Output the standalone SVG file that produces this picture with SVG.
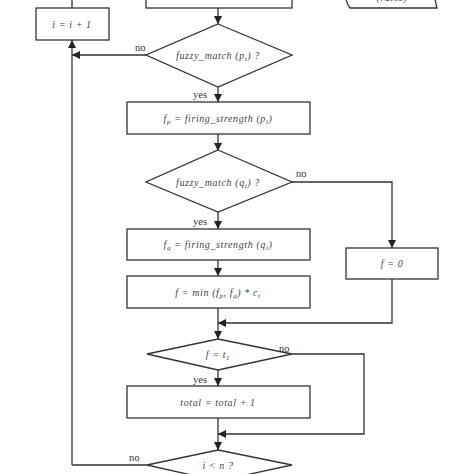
<svg xmlns="http://www.w3.org/2000/svg" width="474" height="474" viewBox="0 0 474 474">
<style>
.s{fill:#fff;stroke:#333;stroke-width:1.3}
.c{fill:none;stroke:#333;stroke-width:1.3}
.t{font-family:"Liberation Serif",serif;font-style:italic;font-size:10px;fill:#444;text-anchor:middle;letter-spacing:0.6px}
.l{font-family:"Liberation Serif",serif;font-size:10.5px;fill:#333}
</style>
<defs>
<marker id="a" markerWidth="8" markerHeight="8" refX="8" refY="4" orient="auto" markerUnits="userSpaceOnUse">
<path d="M0,0 L8,4 L0,8 Z" fill="#222"/>
</marker>
</defs>
<rect width="474" height="474" fill="#fff"/>
<g id="connectors">
<path class="c" d="M218,8 V24" marker-end="url(#a)"/>
<path class="c" d="M72,0 V8"/>
<path class="c" d="M146,55 H72" marker-end="url(#a)"/>
<path class="c" d="M72,465 V40" marker-end="url(#a)"/>
<path class="c" d="M218,87 V102" marker-end="url(#a)"/>
<path class="c" d="M218,134 V151" marker-end="url(#a)"/>
<path class="c" d="M292,182 H392 V248" marker-end="url(#a)"/>
<path class="c" d="M218,212 V229" marker-end="url(#a)"/>
<path class="c" d="M218,260 V276" marker-end="url(#a)"/>
<path class="c" d="M218,308 V339" marker-end="url(#a)"/>
<path class="c" d="M392,279 V323 H218" marker-end="url(#a)"/>
<path class="c" d="M292,354 H364 V434 H218" marker-end="url(#a)"/>
<path class="c" d="M218,370 V386" marker-end="url(#a)"/>
<path class="c" d="M218,418 V450" marker-end="url(#a)"/>
<path class="c" d="M147,465 H72"/>
<text class="l" x="135" y="51">no</text>
<text class="l" x="193" y="98">yes</text>
<text class="l" x="296" y="177">no</text>
<text class="l" x="193" y="225">yes</text>
<text class="l" x="279" y="352">no</text>
<text class="l" x="193" y="383">yes</text>
<text class="l" x="129" y="461">no</text>
</g>
<g id="top"><rect class="s" x="146" y="-30" width="146" height="38"/></g>
<g id="rules">
<path class="s" d="M350,-30 H436 Q432,-10 437,8 H350 Q344,0 347,-8 Z"/>
<text class="t" x="392" y="1">(rules)</text>
</g>
<g id="inc"><rect class="s" x="36" y="8" width="73" height="32"/><text class="t" x="72" y="28">i = i + 1</text></g>
<g id="d1"><path class="s" d="M218,24 L292,55 L218,87 L146,55 Z"/><text class="t" x="218" y="59">fuzzy_match (p<tspan font-size="7" dy="2">i</tspan><tspan dy="-2">) ?</tspan></text></g>
<g id="fp"><rect class="s" x="127" y="102" width="183" height="32"/><text class="t" x="218" y="122">f<tspan font-size="7" dy="2">p</tspan><tspan dy="-2"> = firing_strength (p</tspan><tspan font-size="7" dy="2">i</tspan><tspan dy="-2">)</tspan></text></g>
<g id="d2"><path class="s" d="M218,150 L292,182 L218,212 L146,182 Z"/><text class="t" x="218" y="186">fuzzy_match (q<tspan font-size="7" dy="2">i</tspan><tspan dy="-2">) ?</tspan></text></g>
<g id="fq"><rect class="s" x="127" y="229" width="183" height="31"/><text class="t" x="218" y="248">f<tspan font-size="7" dy="2">q</tspan><tspan dy="-2"> = firing_strength (q</tspan><tspan font-size="7" dy="2">i</tspan><tspan dy="-2">)</tspan></text></g>
<g id="fmin"><rect class="s" x="127" y="276" width="183" height="32"/><text class="t" x="218" y="296">f = min (f<tspan font-size="7" dy="2">p</tspan><tspan dy="-2">, f</tspan><tspan font-size="7" dy="2">q</tspan><tspan dy="-2">) * c</tspan><tspan font-size="7" dy="2">i</tspan></text></g>
<g id="f0"><rect class="s" x="346" y="248" width="92" height="31"/><text class="t" x="392" y="267">f = 0</text></g>
<g id="d3"><path class="s" d="M218,339 L292,354 L218,370 L147,354 Z"/><text class="t" x="218" y="358">f = t<tspan font-size="7" dy="2">1</tspan></text></g>
<g id="total"><rect class="s" x="127" y="386" width="183" height="32"/><text class="t" x="218" y="406">total = total + 1</text></g>
<g id="d4"><path class="s" d="M218,450 L292,465 L218,481 L147,465 Z"/><text class="t" x="218" y="469">i &lt; n ?</text></g>
</svg>
